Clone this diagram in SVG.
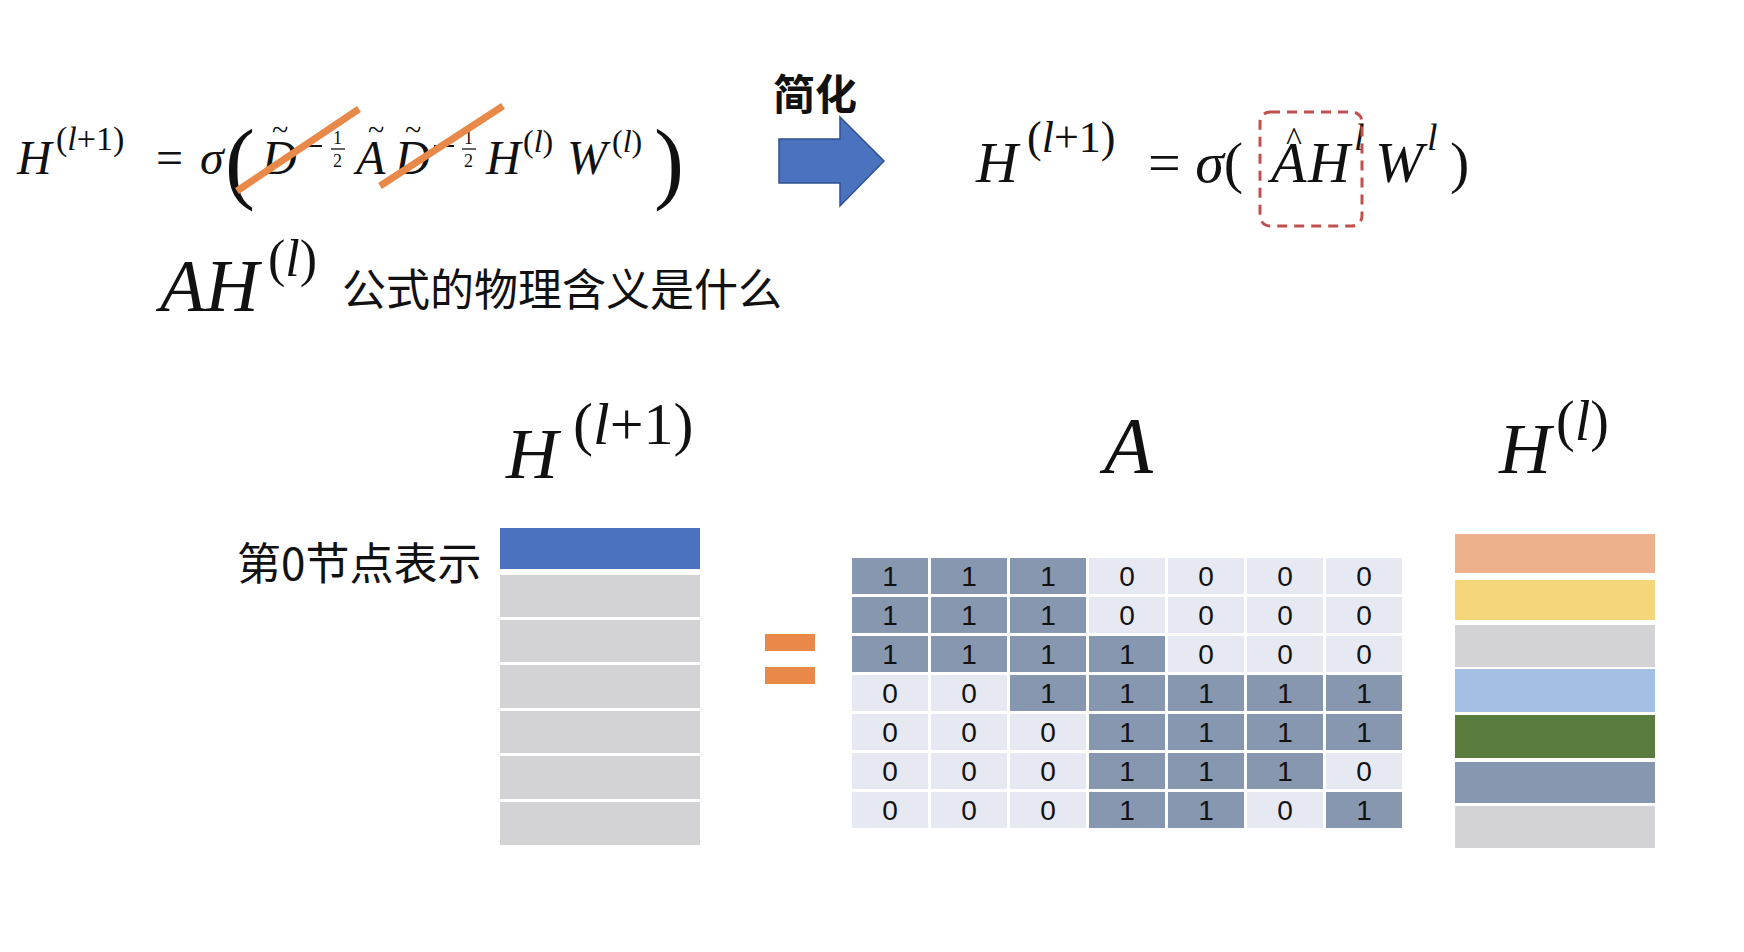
<svg xmlns="http://www.w3.org/2000/svg" width="1744" height="952" viewBox="0 0 1744 952">
<style>
.m{font-family:"Liberation Serif",serif;font-style:italic;fill:#111}
.r{font-family:"Liberation Serif",serif;fill:#111}
.cn{font-family:"Noto Sans CJK SC","Noto Sans",sans-serif;fill:#111}
.d{fill:#8797AF}.l{fill:#E6E9F2}.g{fill:#D3D2D4}
.c{font-family:"Liberation Sans",sans-serif;font-size:28px;fill:#111;text-anchor:middle}
</style>
<rect width="1744" height="952" fill="#fff"/>
<g id="eq1">
<text class="m" x="17" y="174" font-size="48">H</text>
<text class="r" x="56" y="150" font-size="34">(<tspan font-style="italic">l</tspan>+1)</text>
<text class="r" x="156" y="174" font-size="48">=</text>
<text class="m" x="200" y="174" font-size="48">σ</text>
<text class="r" x="225" y="192" font-size="90">(</text>
<text class="m" x="262" y="174" font-size="48">D</text><text class="r" x="272" y="140" font-size="30">~</text>
<line x1="302" y1="146" x2="322" y2="146" stroke="#111" stroke-width="2"/>
<text class="r" x="333" y="144" font-size="18">1</text><line x1="331" y1="149" x2="345" y2="149" stroke="#111" stroke-width="1.3"/><text class="r" x="333" y="167" font-size="18">2</text>
<text class="m" x="356" y="174" font-size="48">A</text><text class="r" x="368" y="140" font-size="30">~</text>
<text class="m" x="395" y="174" font-size="48">D</text><text class="r" x="405" y="140" font-size="30">~</text>
<line x1="434" y1="146" x2="454" y2="146" stroke="#111" stroke-width="2"/>
<text class="r" x="464" y="144" font-size="18">1</text><line x1="462" y1="149" x2="476" y2="149" stroke="#111" stroke-width="1.3"/><text class="r" x="464" y="167" font-size="18">2</text>
<text class="m" x="486" y="174" font-size="48">H</text>
<text class="r" x="523" y="152" font-size="32">(<tspan font-style="italic">l</tspan>)</text>
<text class="m" x="567" y="174" font-size="48">W</text>
<text class="r" x="612" y="152" font-size="32">(<tspan font-style="italic">l</tspan>)</text>
<text class="r" x="654" y="192" font-size="90">)</text>
</g>
<g id="strikes" stroke="#E8894A" stroke-width="7">
<line x1="237" y1="191" x2="359" y2="109"/>
<line x1="380" y1="186" x2="503" y2="106"/>
</g>
<g id="simplify">
<text class="cn" x="773" y="110" font-size="42" font-weight="bold">简化</text>
<polygon points="779,139 840,139 840,117 884,161 840,206 840,183 779,183" fill="#4A72BF" stroke="#2F528F" stroke-width="1.5"/>
</g>
<g id="eq2">
<text class="m" x="976" y="182" font-size="58">H</text>
<text class="r" x="1027" y="152" font-size="44">(<tspan font-style="italic">l</tspan>+1)</text>
<text class="r" x="1148" y="182" font-size="58">= <tspan font-style="italic">σ</tspan>(</text>
<text class="m" x="1271" y="182" font-size="58">A</text><text class="r" x="1286" y="150" font-size="34">^</text>
<text class="m" x="1308" y="182" font-size="58">H</text>
<text class="m" x="1354" y="150" font-size="38">l</text>
<text class="m" x="1375" y="182" font-size="58">W</text>
<text class="m" x="1427" y="150" font-size="38">l</text>
<text class="r" x="1450" y="182" font-size="58">)</text>
<rect x="1260" y="112" width="102" height="114" rx="10" fill="none" stroke="#C0504D" stroke-width="3" stroke-dasharray="10,7"/>
</g>
<g id="question">
<text class="m" x="160" y="311" font-size="74">AH</text>
<text class="r" x="268" y="276" font-size="52">(<tspan font-style="italic">l</tspan>)</text>
<text class="cn" x="342" y="306" font-size="44">公式的物理含义是什么</text>
</g>
<g id="labels">
<text class="m" x="506" y="478" font-size="72">H</text>
<text class="r" x="573" y="444" font-size="60">(<tspan font-style="italic">l</tspan>+1)</text>
<text class="m" x="1104" y="473" font-size="80">A</text>
<text class="m" x="1499" y="473" font-size="72">H</text>
<text class="r" x="1556" y="440" font-size="56">(<tspan font-style="italic">l</tspan>)</text>
<text class="cn" x="237" y="580" font-size="44">第0节点表示</text>
</g>
<g id="Hnext">
<rect x="500" y="528" width="200" height="41" fill="#4A72BF"/>
<rect class="g" x="500" y="575" width="200" height="42"/>
<rect class="g" x="500" y="620" width="200" height="42"/>
<rect class="g" x="500" y="665" width="200" height="43"/>
<rect class="g" x="500" y="711" width="200" height="42"/>
<rect class="g" x="500" y="756" width="200" height="43"/>
<rect class="g" x="500" y="802" width="200" height="43"/>
</g>
<g id="equals" fill="#E8894A">
<rect x="765" y="634" width="50" height="17"/>
<rect x="765" y="667" width="50" height="17"/>
</g>
<g id="matrixA">
<rect class="d" x="852" y="558" width="76" height="36"/><rect class="d" x="931" y="558" width="76" height="36"/><rect class="d" x="1010" y="558" width="76" height="36"/><rect class="l" x="1089" y="558" width="76" height="36"/><rect class="l" x="1168" y="558" width="76" height="36"/><rect class="l" x="1247" y="558" width="76" height="36"/><rect class="l" x="1326" y="558" width="76" height="36"/>
<rect class="d" x="852" y="597" width="76" height="36"/><rect class="d" x="931" y="597" width="76" height="36"/><rect class="d" x="1010" y="597" width="76" height="36"/><rect class="l" x="1089" y="597" width="76" height="36"/><rect class="l" x="1168" y="597" width="76" height="36"/><rect class="l" x="1247" y="597" width="76" height="36"/><rect class="l" x="1326" y="597" width="76" height="36"/>
<rect class="d" x="852" y="636" width="76" height="36"/><rect class="d" x="931" y="636" width="76" height="36"/><rect class="d" x="1010" y="636" width="76" height="36"/><rect class="d" x="1089" y="636" width="76" height="36"/><rect class="l" x="1168" y="636" width="76" height="36"/><rect class="l" x="1247" y="636" width="76" height="36"/><rect class="l" x="1326" y="636" width="76" height="36"/>
<rect class="l" x="852" y="675" width="76" height="36"/><rect class="l" x="931" y="675" width="76" height="36"/><rect class="d" x="1010" y="675" width="76" height="36"/><rect class="d" x="1089" y="675" width="76" height="36"/><rect class="d" x="1168" y="675" width="76" height="36"/><rect class="d" x="1247" y="675" width="76" height="36"/><rect class="d" x="1326" y="675" width="76" height="36"/>
<rect class="l" x="852" y="714" width="76" height="36"/><rect class="l" x="931" y="714" width="76" height="36"/><rect class="l" x="1010" y="714" width="76" height="36"/><rect class="d" x="1089" y="714" width="76" height="36"/><rect class="d" x="1168" y="714" width="76" height="36"/><rect class="d" x="1247" y="714" width="76" height="36"/><rect class="d" x="1326" y="714" width="76" height="36"/>
<rect class="l" x="852" y="753" width="76" height="36"/><rect class="l" x="931" y="753" width="76" height="36"/><rect class="l" x="1010" y="753" width="76" height="36"/><rect class="d" x="1089" y="753" width="76" height="36"/><rect class="d" x="1168" y="753" width="76" height="36"/><rect class="d" x="1247" y="753" width="76" height="36"/><rect class="l" x="1326" y="753" width="76" height="36"/>
<rect class="l" x="852" y="792" width="76" height="36"/><rect class="l" x="931" y="792" width="76" height="36"/><rect class="l" x="1010" y="792" width="76" height="36"/><rect class="d" x="1089" y="792" width="76" height="36"/><rect class="d" x="1168" y="792" width="76" height="36"/><rect class="l" x="1247" y="792" width="76" height="36"/><rect class="d" x="1326" y="792" width="76" height="36"/>
<text class="c" y="586"><tspan x="890">1</tspan><tspan x="969">1</tspan><tspan x="1048">1</tspan><tspan x="1127">0</tspan><tspan x="1206">0</tspan><tspan x="1285">0</tspan><tspan x="1364">0</tspan></text>
<text class="c" y="625"><tspan x="890">1</tspan><tspan x="969">1</tspan><tspan x="1048">1</tspan><tspan x="1127">0</tspan><tspan x="1206">0</tspan><tspan x="1285">0</tspan><tspan x="1364">0</tspan></text>
<text class="c" y="664"><tspan x="890">1</tspan><tspan x="969">1</tspan><tspan x="1048">1</tspan><tspan x="1127">1</tspan><tspan x="1206">0</tspan><tspan x="1285">0</tspan><tspan x="1364">0</tspan></text>
<text class="c" y="703"><tspan x="890">0</tspan><tspan x="969">0</tspan><tspan x="1048">1</tspan><tspan x="1127">1</tspan><tspan x="1206">1</tspan><tspan x="1285">1</tspan><tspan x="1364">1</tspan></text>
<text class="c" y="742"><tspan x="890">0</tspan><tspan x="969">0</tspan><tspan x="1048">0</tspan><tspan x="1127">1</tspan><tspan x="1206">1</tspan><tspan x="1285">1</tspan><tspan x="1364">1</tspan></text>
<text class="c" y="781"><tspan x="890">0</tspan><tspan x="969">0</tspan><tspan x="1048">0</tspan><tspan x="1127">1</tspan><tspan x="1206">1</tspan><tspan x="1285">1</tspan><tspan x="1364">0</tspan></text>
<text class="c" y="820"><tspan x="890">0</tspan><tspan x="969">0</tspan><tspan x="1048">0</tspan><tspan x="1127">1</tspan><tspan x="1206">1</tspan><tspan x="1285">0</tspan><tspan x="1364">1</tspan></text>
</g>
<g id="Hl">
<rect x="1455" y="534" width="200" height="39" fill="#EDB28C"/>
<rect x="1455" y="580" width="200" height="40" fill="#F6D67A"/>
<rect class="g" x="1455" y="625" width="200" height="42"/>
<rect x="1455" y="669" width="200" height="43" fill="#A3C0E4"/>
<rect x="1455" y="715" width="200" height="43" fill="#5A7C3E"/>
<rect x="1455" y="762" width="200" height="41" fill="#8797AF"/>
<rect class="g" x="1455" y="806" width="200" height="42"/>
</g>
</svg>
